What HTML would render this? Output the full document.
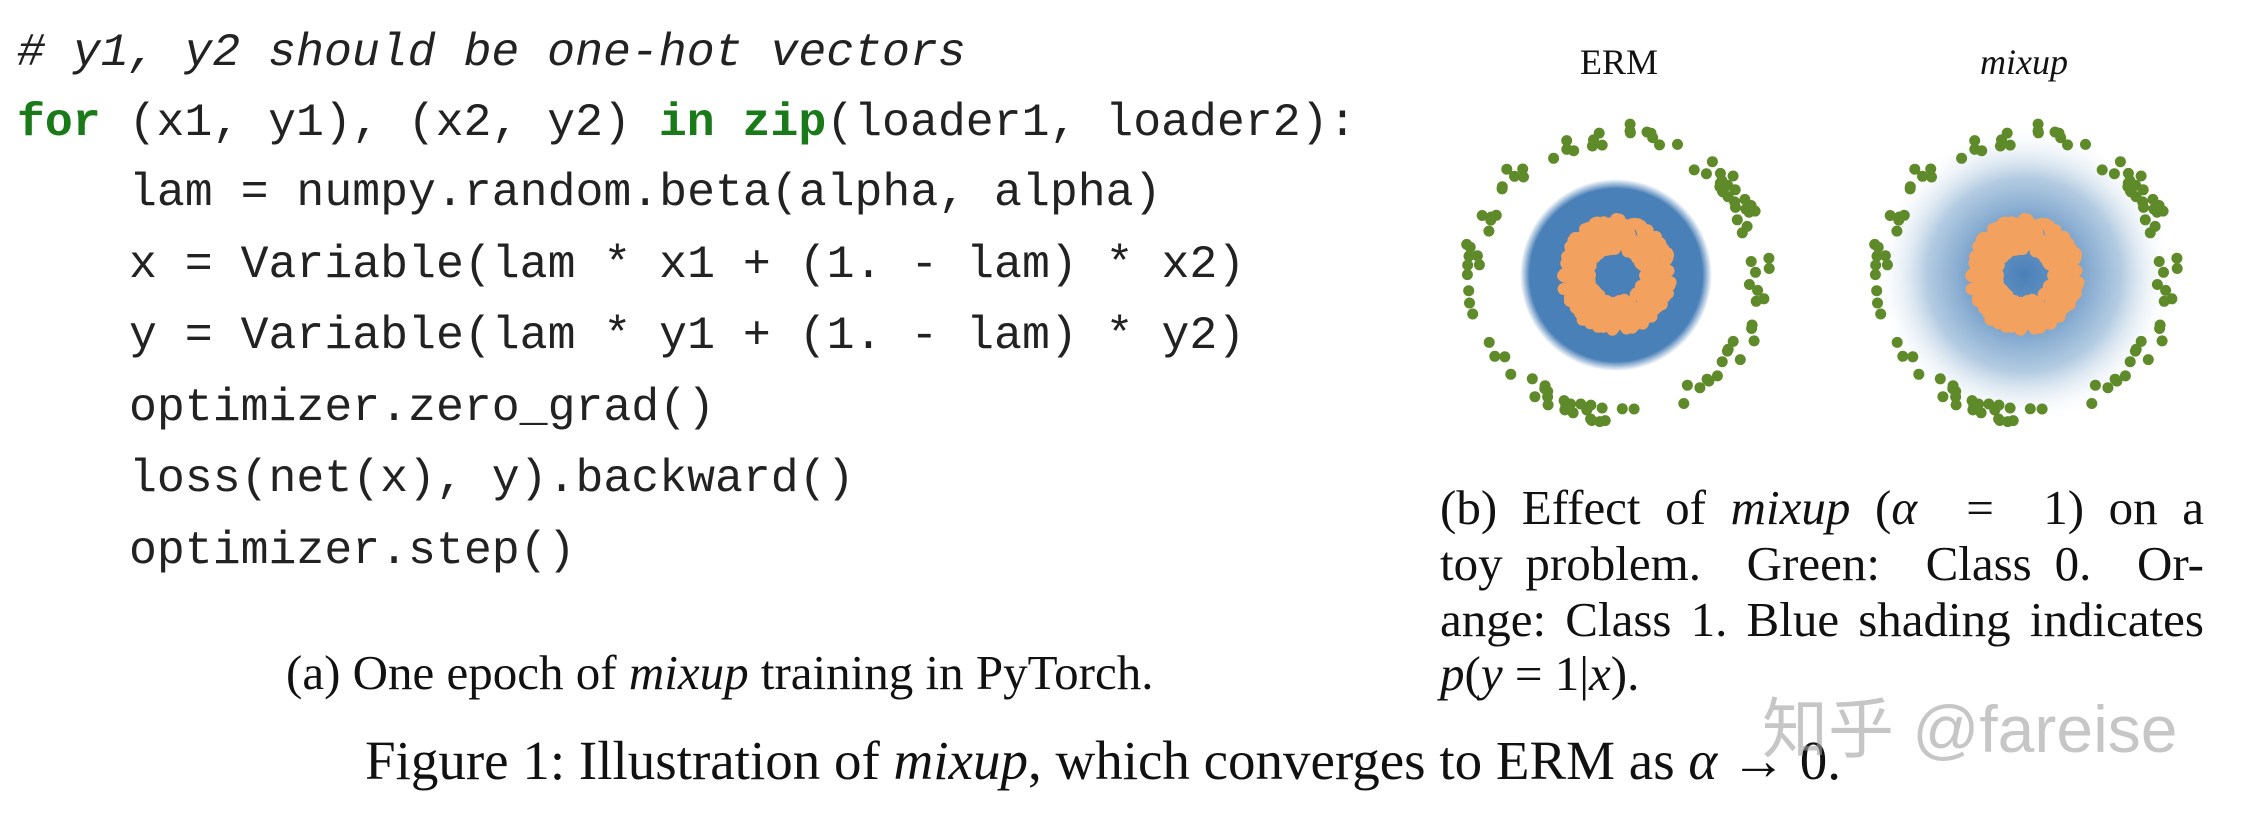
<!DOCTYPE html>
<html><head><meta charset="utf-8"><style>
html,body{margin:0;padding:0;background:#fff;}
body{width:2242px;height:814px;position:relative;overflow:hidden;}
.code{position:absolute;font-family:"Liberation Mono",monospace;font-size:46.5px;color:#222;white-space:pre;line-height:1;}
.kw{color:#1a7a1a;font-weight:bold;}
.it{font-style:italic;}
.serif{position:absolute;font-family:"Liberation Serif",serif;color:#111;white-space:nowrap;line-height:1;}
.bl{position:absolute;left:1440px;width:764px;font-family:"Liberation Serif",serif;font-size:49px;color:#111;text-align:justify;text-align-last:justify;line-height:1;white-space:nowrap;}
</style></head><body>
<div class="code it" style="left:17px;top:30px;">#&nbsp;y1,&nbsp;y2&nbsp;should&nbsp;be&nbsp;one-hot&nbsp;vectors</div>
<div class="code" style="left:17px;top:100px;"><span class="kw">for</span> (x1, y1), (x2, y2) <span class="kw">in</span> <span class="kw">zip</span>(loader1, loader2):</div>
<div class="code" style="left:129px;top:170px;">lam = numpy.random.beta(alpha, alpha)</div>
<div class="code" style="left:129px;top:242px;">x = Variable(lam * x1 + (1. - lam) * x2)</div>
<div class="code" style="left:129px;top:313px;">y = Variable(lam * y1 + (1. - lam) * y2)</div>
<div class="code" style="left:129px;top:385px;">optimizer.zero_grad()</div>
<div class="code" style="left:129px;top:456px;">loss(net(x), y).backward()</div>
<div class="code" style="left:129px;top:528px;">optimizer.step()</div>

<div class="serif" style="left:286px;top:648px;font-size:49px;">(a) One epoch of <i>mixup</i> training in PyTorch.</div>
<div class="serif" style="left:365px;top:733px;font-size:55px;">Figure 1: Illustration of <i>mixup</i>, which converges to ERM as <i>α</i> → 0.</div>

<div class="serif" style="left:1580px;top:44px;font-size:36px;">ERM</div>
<div class="serif" style="left:1980px;top:44px;font-size:36px;"><i>mixup</i></div>

<svg id="sv" width="2242" height="814" style="position:absolute;left:0;top:0;">
<defs>
<radialGradient id="g1"><stop offset="0" stop-color="#4a80b8"/><stop offset="0.9" stop-color="#4a80b8"/><stop offset="1" stop-color="#4a80b8" stop-opacity="0"/></radialGradient>
<radialGradient id="g2"><stop offset="0" stop-color="#4a80b8"/><stop offset="0.3" stop-color="#6c98c6"/><stop offset="0.65" stop-color="#b4cce2"/><stop offset="1" stop-color="#fff" stop-opacity="0"/></radialGradient>
</defs>
<circle cx="1616" cy="275" r="96" fill="url(#g1)"/>
<circle cx="2024" cy="275" r="150" fill="url(#g2)"/>
<g id="dots"></g>
</svg>

<div class="bl" style="top:483px;">(b) Effect of <i>mixup</i> (<i>α</i> &nbsp;= &nbsp;1) on a</div>
<div class="bl" style="top:539px;">toy problem. &nbsp;Green: &nbsp;Class 0. &nbsp;Or-</div>
<div class="bl" style="top:595px;">ange: Class 1. Blue shading indicates</div>
<div class="bl" style="top:649px;text-align-last:left;"><i>p</i>(<i>y</i> = 1|<i>x</i>).</div>

<div style="position:absolute;left:1762px;top:676px;font-family:'Liberation Sans','Noto Sans CJK SC',sans-serif;font-size:66px;color:rgba(160,160,160,0.6);white-space:nowrap;">知乎 @fareise</div>

<script>
var s=12345;function r(){s=(s*16807)%2147483647;return s/2147483647;}
var out='';
var gp=[];for(var i=0;i<110;i++){var a=r()*Math.PI*2;var rad=138+r()*22-8;gp.push([a,rad]);}
var op=[];for(var i=0;i<500;i++){var a=r()*Math.PI*2;var rad=26+r()*30;op.push([a,rad]);}
[1616,2024].forEach(function(cx){var cy=275;
gp.forEach(function(p){out+='<circle cx="'+(cx+Math.cos(p[0])*p[1]*1.02).toFixed(1)+'" cy="'+(cy+Math.sin(p[0])*p[1]).toFixed(1)+'" r="5.5" fill="#5e8a2a"/>';});
op.forEach(function(p){out+='<circle cx="'+(cx+Math.cos(p[0])*p[1]).toFixed(1)+'" cy="'+(cy+Math.sin(p[0])*p[1]).toFixed(1)+'" r="6" fill="#f2a15e"/>';});
});
document.getElementById('dots').innerHTML=out;
</script>
</body></html>
